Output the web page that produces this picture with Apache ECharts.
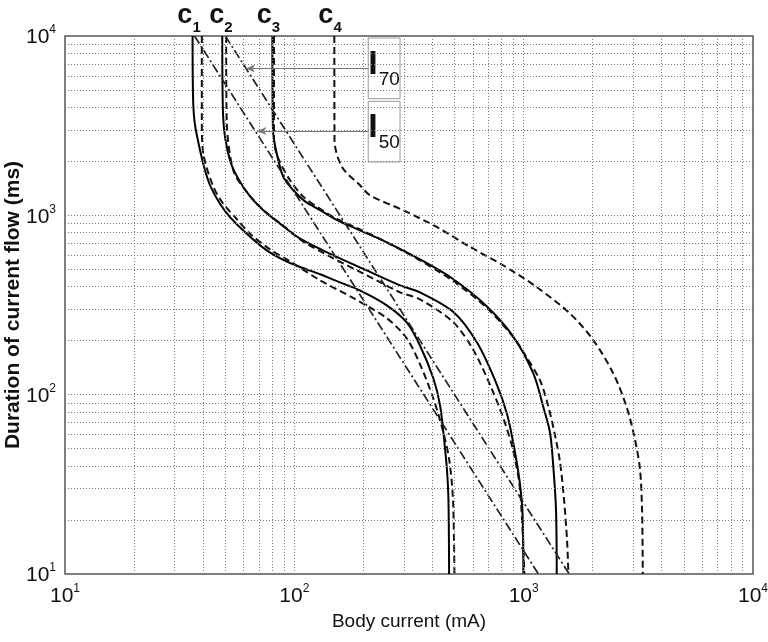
<!DOCTYPE html>
<html>
<head>
<meta charset="utf-8">
<script src="https://cdn.jsdelivr.net/npm/echarts@6/dist/echarts.min.js"></script>
<style>
html,body{margin:0;padding:0;background:#fff;}
#chart{width:768px;height:642px;}
</style>
</head>
<body>
<div id="chart"></div>
<script>
// ---------------- data ----------------
const xMin = 10, xMax = 10000, yMin = 10, yMax = 10000;
const xTickExponents = ['1', '2', '3', '4'];
const yTickExponents = ['1', '2', '3', '4'];
const xGridValues = [20,30,40,50,60,70,80,90,100,200,300,400,500,600,700,800,900,1000,2000,3000,4000,5000,6000,7000,8000,9000];
const yGridValues = [20,30,40,50,60,70,80,90,100,200,300,400,500,600,700,800,900,1000,2000,3000,4000,5000,6000,7000,8000,9000];

// [body current mA, duration ms]
const c1Solid = [[36,10000],[36.2,4380],[36.9,3180],[39.1,2210],[40.8,1780],[43.2,1440],[47.4,1160],[52.4,978],[62,790],[75.8,638],[89.5,565],[106,515],[129.5,469],[158,423],[193,382],[253,315],[309,253],[353,188],[404,123],[432,87],[450,56],[463,38],[470,25.7],[473,10]];
const c1Dashed = [[39.5,10000],[39.5,3390],[40.1,2210],[44.4,1440],[49,1160],[55.1,978],[64.1,790],[78.3,646],[95.8,554],[129.5,434],[181,345],[253,267],[309,206],[353,148],[404,95],[446,62],[474,43],[492,25.7],[499,10]];
const c2Solid = [[48.5,10000],[48.9,3610],[52.4,2030],[59.9,1440],[70.9,1110],[86.6,899],[106,741],[148,598],[207,493],[289,407],[353,372],[494,289],[625,196],[751,120],[846,78],[908,51],[960,33],[989,21.7],[997,10]];
const c2Dashed = [[50.4,10000],[50.7,3390],[54.2,1780],[62,1350],[73.2,1070],[89.2,880],[109,716],[148,576],[207,463],[289,372],[353,340],[494,253],[604,177],[721,110],[821,72],[899,49],[965,29.3],[1007,10]];
const c3Solid = [[80.2,10000],[80.7,2980],[83.8,2210],[89.5,1640],[99,1380],[111,1200],[129.5,1070],[153,944],[193,825],[253,707],[353,568],[494,440],[690,311],[902,210],[1103,131],[1219,85],[1304,61],[1350,38],[1384,22.6],[1394,10]];
const c3Dashed = [[81.5,10000],[81.5,2620],[85.8,2030],[95.8,1570],[109,1276],[129.5,1087],[153,956],[193,836],[253,707],[353,561],[494,429],[690,305],[902,209],[1032,161],[1179,120],[1278,87],[1371,59],[1441,42],[1501,25.7],[1546,15.4],[1567,10]];
const c4Dashed = [[149.4,10000],[149.7,2620],[161.4,1860],[193.4,1470],[213.8,1293],[299,1066],[418,861],[584,666],[816,525],[1140,398],[1594,283],[2014,201],[2462,131],[2815,85],[3060,56],[3218,38],[3283,22.6],[3306,10]];
const i50Line = [[36.7,10000],[1160,10]];
const i70Line = [[50,10000],[1580,10]];

// annotations (data space)
const curveLabels = ['1', '2', '3', '4'];
const curveLabelCurrent = [30.9, 42.6, 68.5, 127.3];
const i70Box = [[210, 9746], [289, 4476]];
const i50Box = [[210, 4323], [289, 1983]];
const i70Arrow = [[210, 6580], [61.5, 6580]];
const i50Arrow = [[210, 2953], [69, 2953]];

// ---------------- styles ----------------
const SANS = "'Liberation Sans',Arial,sans-serif";
const solidStyle = {color: '#000', width: 2, type: 'solid'};
const dashedStyle = {color: '#111', width: 2, type: [7, 4]};
const dashDotStyle = {color: '#222', width: 1.7, type: [9, 3, 2, 3]};

function tickFormatter(exps) {
  return function (v) {
    const e = exps[Math.round(Math.log10(v)) - 1];
    return '{b|10}{s|' + e + '}';
  };
}
const tickRich = {
  b: {fontSize: 21, fontFamily: SANS, color: '#111', verticalAlign: 'bottom', padding: [3, 0, 0, 0]},
  s: {fontSize: 12, fontFamily: SANS, color: '#111', verticalAlign: 'top'}
};

function curve(name, data, style) {
  return {
    name: name, type: 'line', data: data, showSymbol: false, smooth: 0.3,
    lineStyle: style, itemStyle: {color: style.color}, silent: true, z: 3, animation: false
  };
}

const boxLabel = (sub) => ({
  show: true, position: 'inside',
  formatter: '{i|I}{s|' + sub + '}',
  rich: {
    i: {fontSize: 34, fontWeight: 'bold', fontFamily: SANS, color: '#111', verticalAlign: 'top', padding: [0, 1, 8, 0]},
    s: {fontSize: 19, fontFamily: SANS, color: '#111', verticalAlign: 'bottom'}
  }
});

const chart = echarts.init(document.getElementById('chart'), null, {renderer: 'canvas'});

const option = {
  animation: false,
  backgroundColor: '#fff',
  grid: {left: 65, right: 15, top: 36, bottom: 68, containLabel: false, outerBoundsMode: 'none',
         show: true, borderColor: '#555', borderWidth: 1.5, backgroundColor: '#fff'},
  xAxis: {
    type: 'log', logBase: 10, min: xMin, max: xMax,
    name: 'Body current (mA)', nameLocation: 'middle', nameGap: 38, nameMoveOverlap: false,
    nameTextStyle: {fontSize: 19, fontFamily: SANS, color: '#111'},
    axisLine: {show: false}, axisTick: {show: false}, splitLine: {show: false},
    axisLabel: {margin: 9, formatter: tickFormatter(xTickExponents), rich: tickRich}
  },
  yAxis: {
    type: 'log', logBase: 10, min: yMin, max: yMax,
    name: 'Duration of current flow (ms)', nameLocation: 'middle', nameGap: 41, nameMoveOverlap: false,
    nameTextStyle: {fontSize: 21, fontWeight: 'bold', fontFamily: SANS, color: '#111'},
    axisLine: {show: false}, axisTick: {show: false}, splitLine: {show: false},
    axisLabel: {margin: 9, formatter: tickFormatter(yTickExponents), rich: tickRich}
  },
  series: [
    {
      name: 'grid', type: 'line', data: [], silent: true, z: 1,
      markLine: {
        silent: true, symbol: ['none', 'none'], animation: false,
        label: {show: false},
        lineStyle: {color: '#7a7a7a', width: 1, type: [1, 2]},
        emphasis: {disabled: true},
        data: xGridValues.map(v => ({xAxis: v})).concat(yGridValues.map(v => ({yAxis: v})))
      }
    },
    curve('c1 solid', c1Solid, solidStyle),
    curve('c1 dashed', c1Dashed, dashedStyle),
    curve('c2 solid', c2Solid, solidStyle),
    curve('c2 dashed', c2Dashed, dashedStyle),
    curve('c3 solid', c3Solid, solidStyle),
    curve('c3 dashed', c3Dashed, dashedStyle),
    curve('c4 dashed', c4Dashed, dashedStyle),
    Object.assign(curve('I50', i50Line, dashDotStyle), {smooth: false}),
    Object.assign(curve('I70', i70Line, dashDotStyle), {
      smooth: false,
      markLine: {
        silent: true, animation: false, symbol: ['none', 'arrow'], symbolSize: [6, 9],
        label: {show: false},
        lineStyle: {color: '#777', width: 1, type: 'solid'},
        emphasis: {disabled: true},
        data: [
          [{coord: i70Arrow[0]}, {coord: i70Arrow[1]}],
          [{coord: i50Arrow[0]}, {coord: i50Arrow[1]}]
        ]
      },
      markArea: {
        silent: true, animation: false,
        itemStyle: {color: '#fff', borderColor: '#999', borderWidth: 1},
        emphasis: {disabled: true},
        data: [
          [{coord: i70Box[0], label: boxLabel('70')}, {coord: i70Box[1]}],
          [{coord: i50Box[0], label: boxLabel('50')}, {coord: i50Box[1]}]
        ]
      }
    })
  ]
};
chart.setOption(option);

// curve labels c1..c4 above the plot, anchored in data space
const graphics = curveLabels.map((n, i) => {
  const p = chart.convertToPixel({gridIndex: 0}, [curveLabelCurrent[i], yMax]);
  return {
    type: 'text', x: p[0], y: p[1] - 1, z: 10, silent: true,
    style: {
      text: '{c|c}{n|' + n + '}', verticalAlign: 'bottom', align: 'left',
      rich: {
        c: {fontSize: 27, fontWeight: 'bold', fontFamily: SANS, fill: '#111', verticalAlign: 'top', padding: [0, 0, 6, 0]},
        n: {fontSize: 15, fontWeight: 'bold', fontFamily: SANS, fill: '#111', verticalAlign: 'bottom'}
      }
    }
  };
});
chart.setOption({graphic: graphics});
</script>
</body>
</html>
